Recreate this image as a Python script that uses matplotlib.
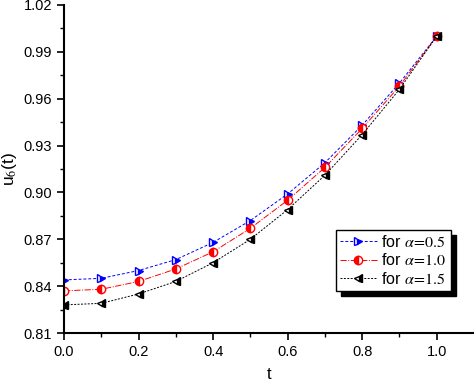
import matplotlib.pyplot as plt
import matplotlib as mpl
import numpy as np

t = [0.0, 0.1, 0.2, 0.3, 0.4, 0.5, 0.6, 0.7, 0.8, 0.9, 1.0]
u_a05 = [0.844, 0.845, 0.850, 0.857, 0.868, 0.882, 0.899, 0.919, 0.943, 0.970, 1.000]
u_a10 = [0.837, 0.838, 0.843, 0.851, 0.862, 0.877, 0.895, 0.916, 0.941, 0.968, 1.000]
u_a15 = [0.828, 0.829, 0.835, 0.843, 0.855, 0.870, 0.889, 0.911, 0.937, 0.966, 1.000]
labels = [r"for $\alpha\!=\!0.5$", r"for $\alpha\!=\!1.0$", r"for $\alpha\!=\!1.5$"]

mpl.rcParams["font.family"] = ["Liberation Sans", "DejaVu Sans"]
mpl.rcParams["mathtext.fontset"] = "stix"

fig = plt.figure(figsize=(4.74, 3.83), dpi=100)
ax = fig.add_axes([0.135, 0.1305, 0.865, 0.8565])

ax.plot(t, u_a05, color="blue", lw=0.7, ls=(0, (3, 2)), marker=">", ms=6,
        fillstyle="right", markerfacecoloralt="white", mec="blue", mfc="blue", label=labels[0])
ax.plot(t, u_a10, color="red", lw=0.7, ls="-.", marker="o", ms=6,
        fillstyle="left", markerfacecoloralt="white", mec="red", mfc="red", label=labels[1])
ax.plot(t, u_a15, color="black", lw=0.7, ls=(0, (2, 1.5)), marker="<", ms=6,
        fillstyle="right", markerfacecoloralt="white", mec="black", mfc="black", label=labels[2])

ax.set_xlim(0, 1.1)
ax.set_ylim(0.81, 1.02)
ax.set_xticks([0.0, 0.2, 0.4, 0.6, 0.8, 1.0])
ax.set_xticks(np.arange(0.1, 1.1, 0.2), minor=True)
ax.set_yticks([0.81, 0.84, 0.87, 0.90, 0.93, 0.96, 0.99, 1.02])
ax.set_yticks(np.arange(0.825, 1.02, 0.03), minor=True)
ax.set_xticklabels(["0.0", "0.2", "0.4", "0.6", "0.8", "1.0"])
ax.set_yticklabels(["0.81", "0.84", "0.87", "0.90", "0.93", "0.96", "0.99", "1.02"])
ax.tick_params(which="major", direction="out", length=5, width=1.2, labelsize=10.5)
ax.tick_params(which="minor", direction="out", length=3, width=1.0)

for s in ["top", "right"]:
    ax.spines[s].set_visible(False)
for s in ["left", "bottom"]:
    ax.spines[s].set_linewidth(1.5)

ax.set_xlabel("t", fontsize=12, labelpad=6)
ax.set_ylabel(r"u$_6$(t)", fontsize=12.5, labelpad=3)

leg = ax.legend(loc="upper left", bbox_to_anchor=(0.663, 0.314), fontsize=11.5,
                frameon=True, fancybox=False, shadow={"color": "black", "alpha": 1, "ox": 3.5, "oy": -3.5},
                edgecolor="black", handlelength=2.3, borderpad=0.25, labelspacing=0.15,
                handletextpad=0.3, borderaxespad=0)
leg.get_frame().set_linewidth(1.0)
leg.get_frame().set_alpha(1)

plt.savefig("out.png", dpi=100)
